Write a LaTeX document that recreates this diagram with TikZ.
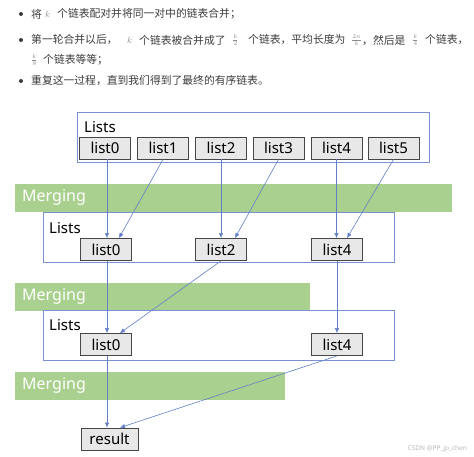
\documentclass[tikz,border=0pt]{standalone}
\usepackage{fontspec}
\setmainfont{Noto Sans}
\newfontfamily\cjk{Noto Sans CJK SC}
\usetikzlibrary{arrows.meta,calc}
\definecolor{txtgray}{RGB}{60,60,60}
\definecolor{mathgray}{RGB}{140,140,140}
\definecolor{bandgreen}{RGB}{169,208,142}
\definecolor{boxblue}{RGB}{122,146,210}
\definecolor{arrblue}{RGB}{98,128,200}
\definecolor{nodefill}{RGB}{232,232,232}
\definecolor{nodeline}{RGB}{70,70,70}
\begin{document}
\begin{tikzpicture}[x=1pt,y=-1pt,
  cjktext/.style={anchor=west,inner sep=0pt,text=txtgray,font=\cjk\fontsize{10.8}{13}\selectfont},
  mathtext/.style={anchor=west,inner sep=0pt,text=mathgray,font=\fontsize{9}{10}\selectfont},
  bullet/.style={circle,fill=txtgray,inner sep=0pt,minimum size=4pt},
  band/.style={fill=bandgreen,draw=none,anchor=north west,minimum height=28pt,inner sep=0pt},
  bandtext/.style={anchor=west,inner sep=0pt,text=white,font=\fontsize{16}{18}\selectfont},
  listsbox/.style={draw=boxblue,fill=white,line width=0.8pt,anchor=north west,minimum width=351pt,minimum height=50pt,inner sep=0pt},
  liststext/.style={anchor=west,inner sep=0pt,text=black,font=\fontsize{15}{17}\selectfont},
  lbox/.style={draw=nodeline,fill=nodefill,line width=0.8pt,minimum width=51pt,minimum height=22pt,inner sep=0pt,font=\fontsize{15}{17}\selectfont},
  arr/.style={draw=arrblue,line width=0.6pt,-{Latex[length=5pt,width=4.5pt]}}
]
\useasboundingbox (0,0) rectangle (474,456);
\fill[white] (0,0) rectangle (474,456);

% bullet text
\node[bullet] (b1) at (21,14) {};
\node[cjktext] (t1a) at (31,14) {将};
\node[mathtext] (t1k) at (45,14) {$k$};
\node[cjktext] (t1b) at (57,14) {个链表配对并将同一对中的链表合并；};

\node[bullet] (b2) at (21,40) {};
\node[cjktext] (t2a) at (31,40) {第一轮合并以后，};
\node[mathtext] (t2k) at (127,40) {$k$};
\node[cjktext] (t2b) at (139,40) {个链表被合并成了};
\node[mathtext] (t2f1) at (232,40) {$\frac{k}{2}$};
\node[cjktext] (t2c) at (248,40) {个链表，平均长度为};
\node[mathtext] (t2f2) at (351,40) {$\frac{2n}{k}$};
\node[cjktext] (t2d) at (362,40) {，然后是};
\node[mathtext] (t2f3) at (412,40) {$\frac{k}{4}$};
\node[cjktext] (t2e) at (425,40) {个链表，};

\node[mathtext] (t3f) at (31,60) {$\frac{k}{8}$};
\node[cjktext] (t3a) at (43,60) {个链表等等；};

\node[bullet] (b3) at (21,81) {};
\node[cjktext] (t4a) at (31,81) {重复这一过程，直到我们得到了最终的有序链表。};

% bands
\node[band,minimum width=437pt] (m1) at (15,184) {};
\node[bandtext] (m1t) at (22,198) {Merging};
\node[band,minimum width=295pt] (m2) at (15,283) {};
\node[bandtext] (m2t) at (22,297) {Merging};
\node[band,minimum width=270pt] (m3) at (15,372) {};
\node[bandtext] (m3t) at (22,386) {Merging};

% lists boxes
\node[listsbox,minimum width=352pt] (L1) at (77,112) {};
\node[liststext] (L1t) at (84,127) {Lists};
\node[listsbox] (L2) at (43,212) {};
\node[liststext] (L2t) at (49,228) {Lists};
\node[listsbox] (L3) at (43,310) {};
\node[liststext] (L3t) at (49,325) {Lists};

% list nodes
\node[lbox] (a0) at (105,148) {list0};
\node[lbox] (a1) at (163,148) {list1};
\node[lbox] (a2) at (221,148) {list2};
\node[lbox] (a3) at (278.5,148) {list3};
\node[lbox] (a4) at (336.5,148) {list4};
\node[lbox] (a5) at (393.5,148) {list5};

\node[lbox] (b0) at (106,249.5) {list0};
\node[lbox] (bb2) at (221,249.5) {list2};
\node[lbox] (bb4) at (337,249.5) {list4};

\node[lbox] (c0) at (106,344.5) {list0};
\node[lbox] (c4) at (337,344.5) {list4};

\node[lbox,minimum width=57pt] (res) at (109.5,439) {result};

% arrows
\draw[arr] ([xshift=2pt]a0.south) -- ([xshift=2pt]a0.south |- b0.north);
\draw[arr] (a1.south) -- ([xshift=13pt]b0.north);
\draw[arr] (a2.south) -- (a2.south |- bb2.north);
\draw[arr] (a3.south) -- ([xshift=14pt]bb2.north);
\draw[arr] (a4.south) -- (a4.south |- bb4.north);
\draw[arr] (a5.south) -- ([xshift=10pt]bb4.north);

\draw[arr] ([xshift=1pt]b0.south) -- ([xshift=1pt]b0.south |- c0.north);
\draw[arr] (bb2.south) -- ([xshift=14pt]c0.north);
\draw[arr] (bb4.south) -- (bb4.south |- c4.north);

\draw[arr] ([xshift=1pt]c0.south) -- ([xshift=1pt]c0.south |- res.north);
\draw[arr] (c4.south) -- ([xshift=10.5pt]res.north);

% watermark
\node[anchor=east,inner sep=0pt,text={rgb,255:red,185;green,185;blue,185},font=\fontsize{6.5}{7}\selectfont] (wm) at (467,449) {CSDN @PP\_jp\_chen};
\end{tikzpicture}
\end{document}
